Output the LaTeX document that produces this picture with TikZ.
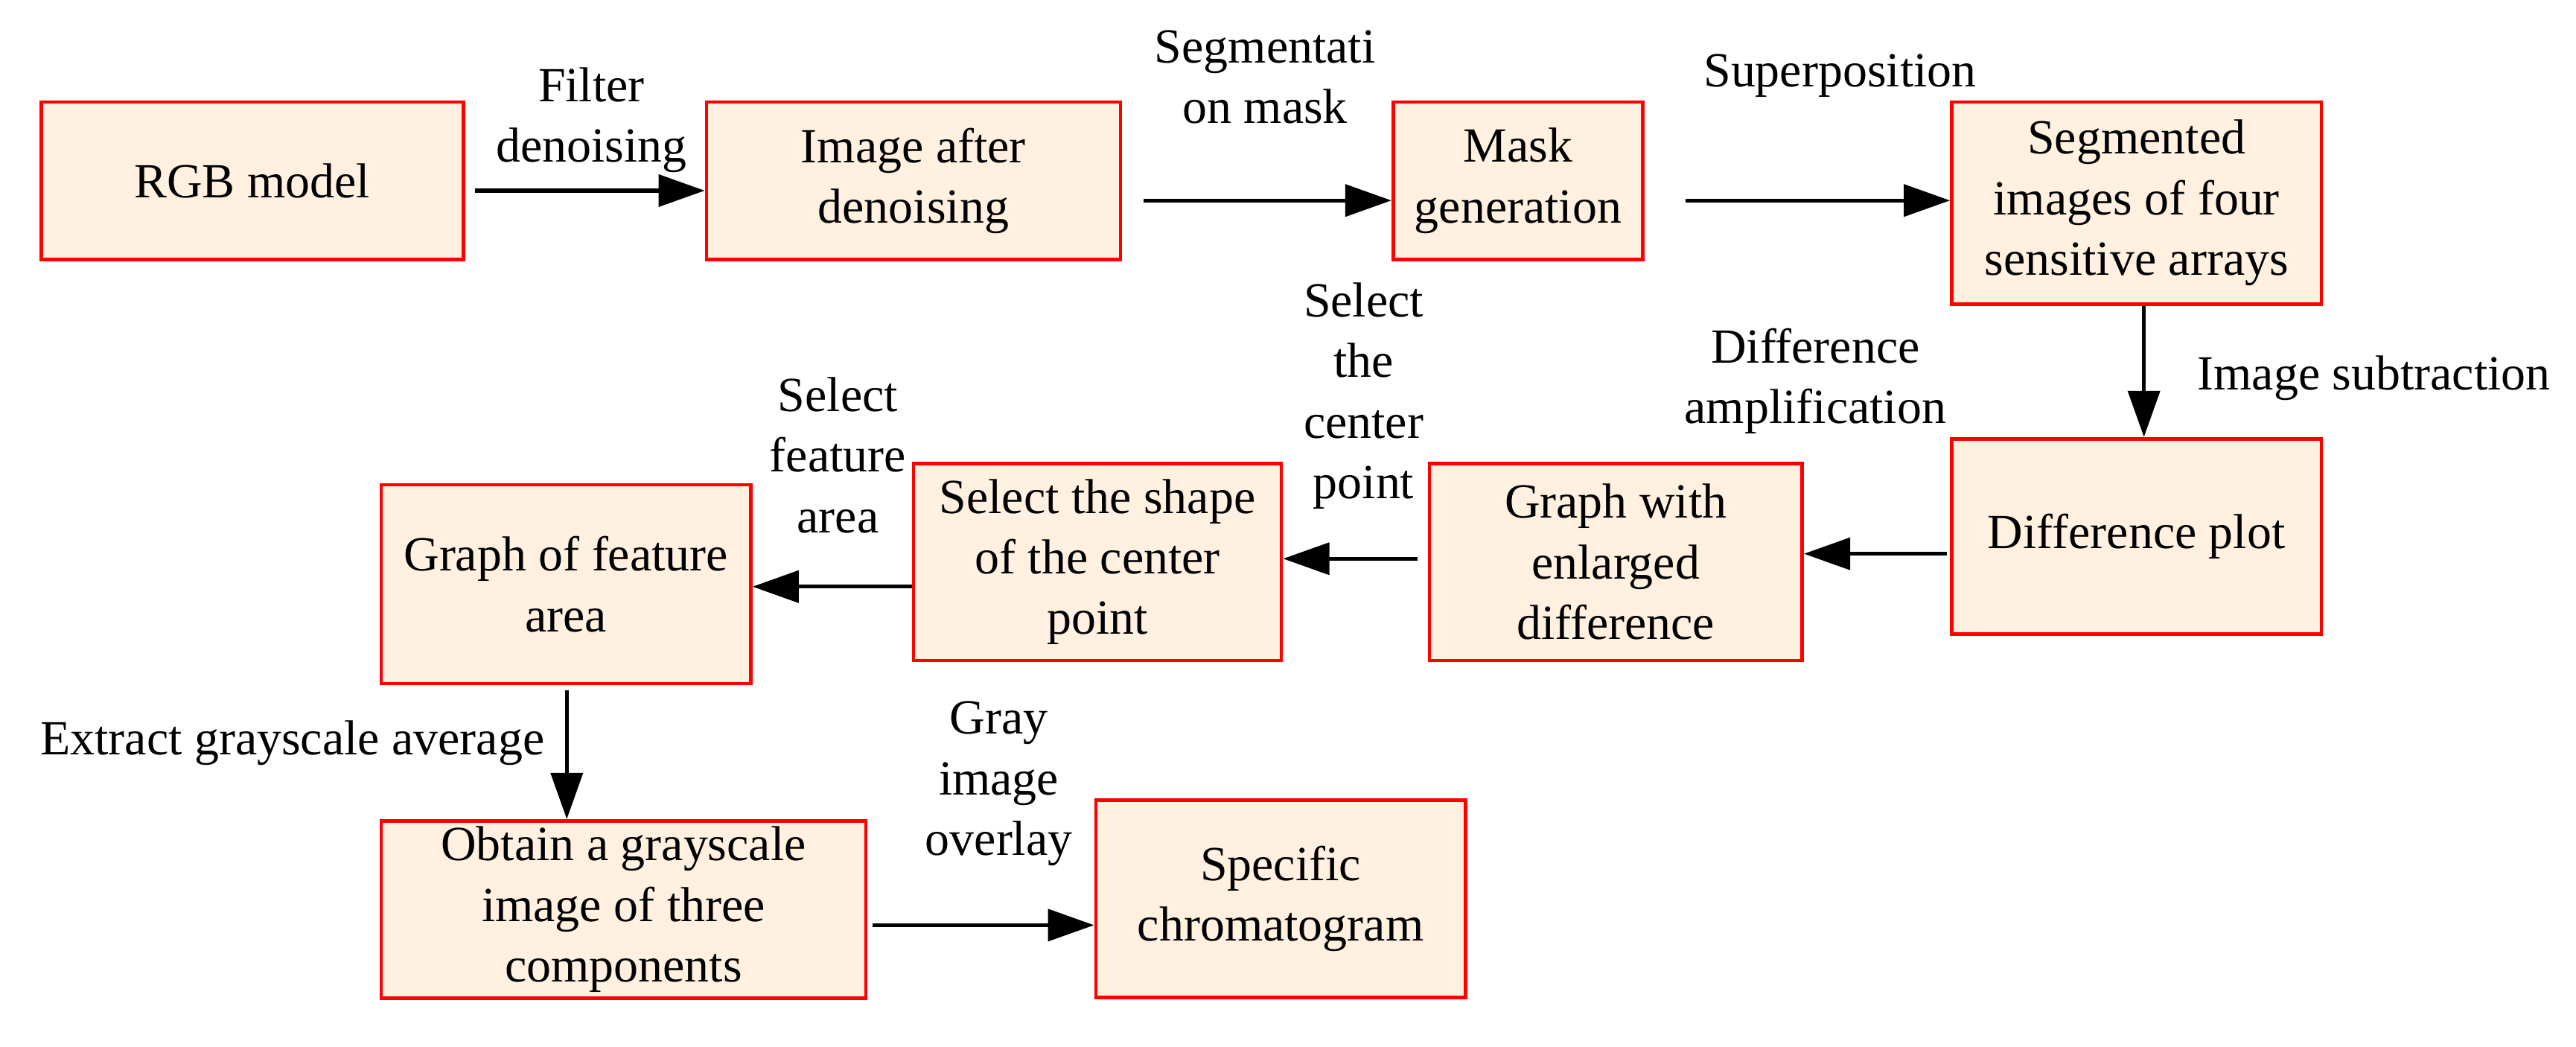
\documentclass[tikz,border=0pt]{standalone}
\usepackage{fontspec}
\setmainfont{Liberation Serif}
\usetikzlibrary{arrows.meta,calc}
\begin{document}
\begin{tikzpicture}[x=0.02cm,y=-0.02cm,
 box/.style={draw=red,line width=1.2pt,fill=orange!12!white,align=center,inner sep=2pt,font=\fontsize{17}{21}\selectfont},
 lab/.style={align=center,font=\fontsize{17}{21}\selectfont,inner sep=0pt},
 arr/.style={line width=1.3pt,-{Triangle[length=16pt,width=11pt]}}]
\useasboundingbox (0,0) rectangle (1568,637);
\node[box,minimum width=5.14cm,minimum height=1.92cm] (a) at (153.5,110) {RGB model};
\node[box,minimum width=5.04cm,minimum height=1.92cm] (b) at (556,110) {Image after\\denoising};
\node[box,minimum width=3.04cm,minimum height=1.92cm] (c) at (924,110) {Mask\\generation};
\node[box,minimum width=4.5cm,minimum height=2.46cm] (d) at (1300.5,123.5) {Segmented\\images of four\\sensitive arrays};
\node[box,minimum width=4.5cm,minimum height=2.38cm] (e) at (1300.5,326.5) {Difference plot};
\node[box,minimum width=4.54cm,minimum height=2.4cm] (f) at (983.5,342) {Graph with\\enlarged\\difference};
\node[box,minimum width=4.48cm,minimum height=2.4cm] (g) at (668,342) {Select the shape\\of the center\\point};
\node[box,minimum width=4.5cm,minimum height=2.42cm] (h) at (344.5,355.5) {Graph of feature\\area};
\node[box,minimum width=5.9cm,minimum height=2.14cm] (i) at (379.5,553.5) {Obtain a grayscale\\image of three\\components};
\node[box,minimum width=4.5cm,minimum height=2.4cm] (j) at (779.5,547) {Specific\\chromatogram};
\coordinate (y1) at (0,116);
\coordinate (y2) at (0,122);
\coordinate (y5) at (0,337);
\coordinate (y6) at (0,340);
\coordinate (y7) at (0,357);
\coordinate (y9) at (0,563);
\coordinate (x4) at (1305,0);
\coordinate (x8) at (345,0);
\draw[arr] ($(a.east |- y1)+(6,0)$) -- (b.west |- y1);
\draw[arr] ($(b.east |- y2)+(13,0)$) -- (c.west |- y2);
\draw[arr] ($(c.east |- y2)+(25,0)$) -- (d.west |- y2);
\draw[arr] (d.south -| x4) -- (e.north -| x4);
\draw[arr] ($(e.west |- y5)+(-2,0)$) -- (f.east |- y5);
\draw[arr] ($(f.west |- y6)+(-6,0)$) -- (g.east |- y6);
\draw[arr] (g.west |- y7) -- (h.east |- y7);
\draw[arr] ($(h.south -| x8)+(0,3)$) -- (i.north -| x8);
\draw[arr] ($(i.east |- y9)+(3,0)$) -- (j.west |- y9);
\node[lab] at (360,73) {Filter\\denoising};
\node[lab] at (770,47) {Segmentati\\on mask};
\node[lab] at (1120,46) {Superposition};
\node[lab] at (1445,230) {Image subtraction};
\node[lab] at (1105,232) {Difference\\amplification};
\node[lab] at (830,241) {Select\\the\\center\\point};
\node[lab] at (510,277) {Select\\feature\\area};
\node[lab] at (178,452) {Extract grayscale average};
\node[lab] at (608,477) {Gray\\image\\overlay};
\end{tikzpicture}
\end{document}
